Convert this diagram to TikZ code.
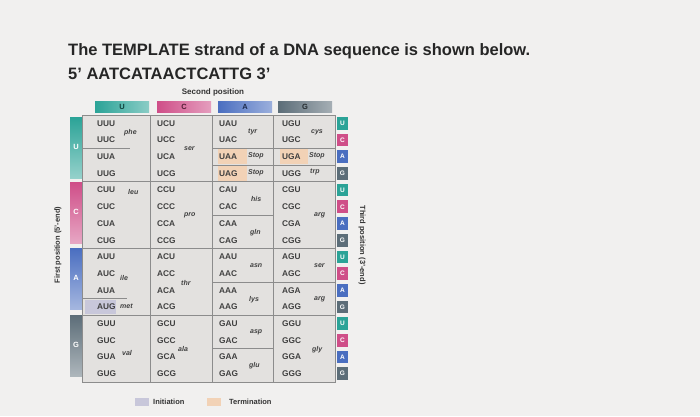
\documentclass[tikz,border=0pt]{standalone}
\usepackage{fontspec}
\setmainfont{Liberation Sans}
\begin{document}
\begin{tikzpicture}[x=1pt,y=-1pt,
  cod/.style={anchor=west,inner sep=0pt,font=\fontsize{8.3}{9}\selectfont\bfseries,text=black!75},
  aa/.style={anchor=west,inner sep=0pt,font=\fontsize{7}{8}\selectfont\bfseries\itshape,text=black!75},
  grid/.style={draw=black!45,line width=0.8pt},
  lbl/.style={inner sep=0pt,font=\fontsize{7.5}{8}\selectfont\bfseries,text=black!80}]
\definecolor{bg}{HTML}{F1F0EF}
\definecolor{tb}{HTML}{E3E1DF}
\definecolor{cU}{HTML}{2BA397}
\definecolor{cC}{HTML}{CF4E88}
\definecolor{cA}{HTML}{4A6EC0}
\definecolor{cG}{HTML}{5C6D78}
\definecolor{term}{HTML}{F2D2B6}
\definecolor{init}{HTML}{C8C7DA}
\fill[bg] (0,0) rectangle (700,416);
\useasboundingbox (0,0) rectangle (700,416);
\node[anchor=west,inner sep=0pt,font=\fontsize{16.5}{18}\selectfont\bfseries,text=black!85] (t1) at (68,51) {The TEMPLATE strand of a DNA sequence is shown below.};
\node[anchor=west,inner sep=0pt,font=\fontsize{16.5}{18}\selectfont\bfseries,text=black!85] (t2) at (68,74) {5' AATCATAACTCATTG 3'};
% table
\fill[tb] (82,115) rectangle (335,382);
\def\rh{16.69}
\fill[term] (218,{115+2*\rh+1}) rectangle (247,{115+3*\rh-1});
\fill[term] (218,{115+3*\rh+1}) rectangle (247,{115+4*\rh-1});
\fill[term] (280,{115+2*\rh+1}) rectangle (308,{115+3*\rh-1});
\fill[init] (85,{115+11*\rh+1}) rectangle (116,{115+12*\rh-1});
\node[lbl,font=\fontsize{8}{9}\selectfont\bfseries] (sp) at (213,92) {Second position};
\foreach \l/\c/\xa in {U/cU/95,C/cC/157,A/cA/218,G/cG/278}{
  \shade[left color=\c,right color=\c!55] (\xa,101) rectangle ({\xa+54},112);
  \node[lbl,text=\c!40!black] (h\l) at ({\xa+27},106.5) {\l};
}
\foreach \l/\c/\ya in {U/cU/117,C/cC/182,A/cA/248,G/cG/315}{
  \shade[top color=\c,bottom color=\c!50] (70,\ya) rectangle (82,{\ya+61});
  \node[lbl,text=white] (f\l) at (76,{\ya+30}) {\l};
}
\foreach \g in {0,1,2,3}{
 \foreach \l/\c [count=\k from 0] in {U/cU,C/cC,A/cA,G/cG}{
  \pgfmathsetmacro\yy{115+(\g*4+\k)*\rh}
  \fill[\c] (337,{\yy+2}) rectangle (348,{\yy+\rh-2});
  \node[lbl,text=white,font=\fontsize{6.5}{7}\selectfont\bfseries] (r\g\k) at (342.5,{\yy+\rh/2}) {\l};
 }}
\node[lbl,rotate=90] (fp) at (58,245) {First position (5'-end)};
\node[lbl,rotate=-90] (tp) at (362,245) {Third position (3'-end)};
% codons
\foreach \cx/\sx in {97/U,157/C,219/A,282/G}{
 \foreach \fb [count=\fa from 0] in {U,C,A,G}{
  \foreach \tb [count=\ta from 0] in {U,C,A,G}{
   \pgfmathsetmacro\yy{115+(\fa*4+\ta+0.5)*\rh}
   \node[cod] (c\fb\sx\tb) at (\cx,\yy) {\fb\sx\tb};
 }}}
% amino acids
\foreach \x/\r/\n in {124/0.6/phe,128/4.2/leu,120/9.3/ile,120/11/met,122/13.8/val,
  184/1.6/ser,184/5.6/pro,181/9.6/thr,178/13.6/ala,
  248/0.6/tyr,248/2/Stop,248/3/Stop,251/4.6/his,250/6.6/gln,250/8.6/asn,249/10.6/lys,250/12.6/asp,249/14.6/glu,
  311/0.6/cys,309/2/Stop,310/3/trp,314/5.6/arg,314/8.6/ser,314/10.6/arg,312/13.6/gly}{
  \node[aa] at (\x,{115+(\r+0.5)*\rh-1}) {\n};
}
% grid lines
\draw[grid] (82,115) rectangle (335,382);
\foreach \x in {150,212,273}{\draw[grid] (\x,115) -- (\x,382);}
\foreach \r in {4,8,12}{\draw[grid] (82,{115+\r*\rh}) -- (335,{115+\r*\rh});}
\draw[grid] (82,{115+2*\rh}) -- (130,{115+2*\rh});
\draw[grid] (82,{115+11*\rh}) -- (127,{115+11*\rh});
\foreach \r in {2,3,6,10,14}{\draw[grid] (212,{115+\r*\rh}) -- (273,{115+\r*\rh});}
\foreach \r in {2,3,10}{\draw[grid] (273,{115+\r*\rh}) -- (335,{115+\r*\rh});}
% legend
\fill[init] (135,398) rectangle (149,406);
\node[lbl,anchor=west] (li) at (153,402) {Initiation};
\fill[term] (207,398) rectangle (221,406);
\node[lbl,anchor=west] (lt) at (229,402) {Termination};
\end{tikzpicture}
\end{document}
